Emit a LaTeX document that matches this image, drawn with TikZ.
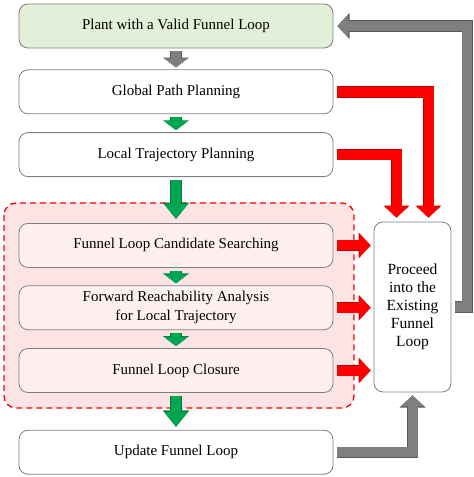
\documentclass[tikz,border=0pt]{standalone}
\usepackage{fontspec}
\setmainfont{Liberation Serif}
\usetikzlibrary{positioning, arrows.meta}

\definecolor{boxline}{HTML}{7F7F7F}
\definecolor{plantfill}{HTML}{E2F0D9}
\definecolor{regionfill}{HTML}{FCE4E4}
\definecolor{innerfill}{HTML}{FFF0F0}
\definecolor{arrowred}{HTML}{FF0000}
\definecolor{redline}{HTML}{C00000}
\definecolor{arrowgreen}{HTML}{00A651}
\definecolor{greenline}{HTML}{007A3D}
\definecolor{arrowgray}{HTML}{7F7F7F}
\definecolor{grayline}{HTML}{595959}

\begin{document}
\begin{tikzpicture}[x=1pt, y=-1pt, node distance=18pt,
	box/.style={draw=boxline, line width=0.8pt, rounded corners=9pt, fill=white,
		minimum width=314pt, minimum height=44pt, align=center,
		font=\fontsize{15}{19}\selectfont},
	fat/.style n args={3}{draw=#1, line width=10pt, -{Triangle[width=23pt, length=#3]},
		preaction={draw=#2, line width=11.4pt, -{Triangle[width=23pt, length=#3, scale=1.1]}}}]
	\useasboundingbox (0,0) rectangle (474,477);
	
	\draw[draw=arrowred, line width=1.3pt, dash pattern=on 6pt off 4pt, fill=regionfill, rounded corners=12pt] (4,203) rectangle (354,408);
	
	\node[box, fill=plantfill] (plant) at (176,26) {Plant with a Valid Funnel Loop};
	\node[box, below=21pt of plant] (global) {Global Path Planning};
	\node[box, below=18pt of global] (local) {Local Trajectory Planning};
	\node[box, fill=innerfill, below=46pt of local] (search) {Funnel Loop Candidate Searching};
	\node[box, fill=innerfill, below=17.5pt of search] (forward) {Forward Reachability Analysis\\for Local Trajectory};
	\node[box, fill=innerfill, below=18pt of forward] (closure) {Funnel Loop Closure};
	\node[box, below=37pt of closure] (update) {Update Funnel Loop};
	\node[box, minimum width=77pt, minimum height=170pt, font=\fontsize{15.5}{18}\selectfont] (proceed) at (412.5,307) {Proceed\\into the\\Existing\\Funnel\\Loop};
	
	\draw[fat={arrowgray}{grayline}{9pt}, shorten <=3pt, shorten >=2pt] (plant) -- (global);
	\draw[fat={arrowgreen}{greenline}{9pt}, shorten <=3pt, shorten >=2pt] (global) -- (local);
	\draw[fat={arrowgreen}{greenline}{15pt}, shorten <=3pt, shorten >=4pt] (local) -- (search);
	\draw[fat={arrowgreen}{greenline}{9pt}, shorten <=3pt, shorten >=2pt] (search) -- (forward);
	\draw[fat={arrowgreen}{greenline}{9pt}, shorten <=3pt, shorten >=2pt] (forward) -- (closure);
	\draw[fat={arrowgreen}{greenline}{15pt}, shorten <=3pt, shorten >=3pt] (closure) -- (update);
	
	\draw[fat={arrowred}{redline}{11pt}] ([xshift=4pt]global.east) -| ([xshift=16pt, yshift=4pt]proceed.north);
	\draw[fat={arrowred}{redline}{11pt}] ([xshift=4pt]local.east) -| ([xshift=-16pt, yshift=4pt]proceed.north);
	\draw[fat={arrowred}{redline}{11pt}, shorten >=3pt] ([xshift=4pt]search.east) -- (search.east -| proceed.west);
	\draw[fat={arrowred}{redline}{11pt}, shorten >=3pt] ([xshift=4pt]forward.east) -- (forward.east -| proceed.west);
	\draw[fat={arrowred}{redline}{11pt}, shorten >=3pt] ([xshift=4pt]closure.east) -- (closure.east -| proceed.west);
	
	\draw[fat={arrowgray}{grayline}{11pt}] ([xshift=4pt]proceed.east) -| ([xshift=134pt]plant.east) -- ([xshift=4pt]plant.east);
	\draw[fat={arrowgray}{grayline}{11pt}] ([xshift=4pt]update.east) -| ([yshift=-3pt]proceed.south);
	
\end{tikzpicture}
\end{document}
